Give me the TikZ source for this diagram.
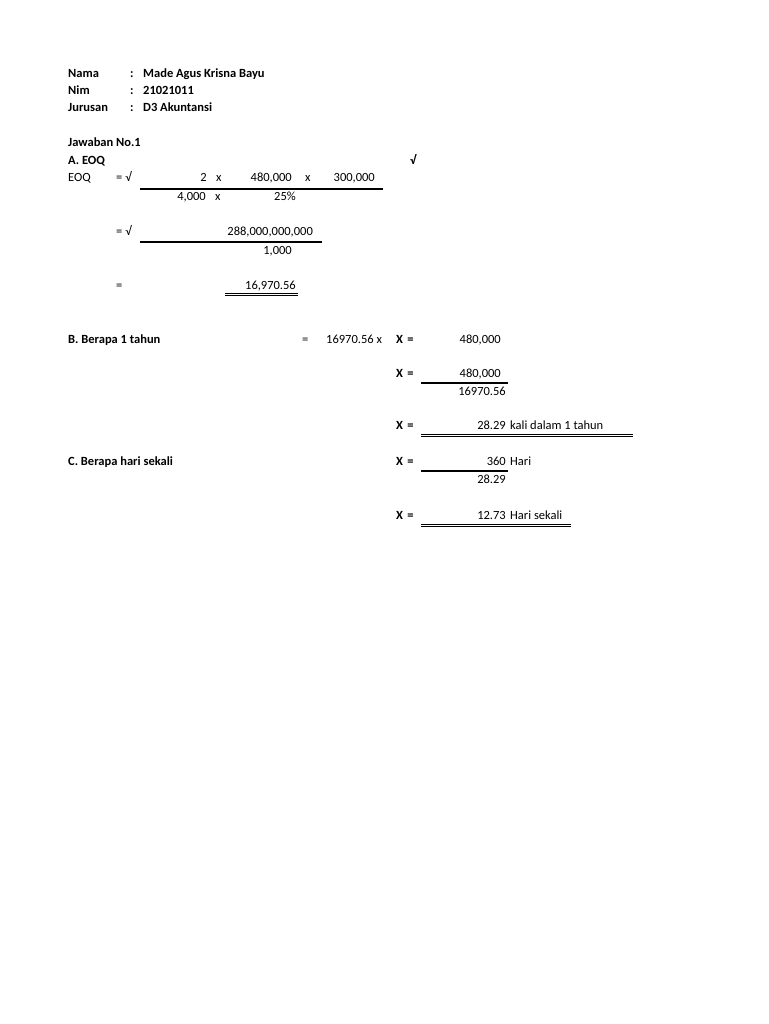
\documentclass[tikz,border=0pt]{standalone}
\usepackage{fontspec}
\setmainfont{Carlito}
\begin{document}
\begin{tikzpicture}[x=1pt,y=-1pt,
  every node/.style={inner sep=0pt,font=\fontsize{12.5}{14}\selectfont},
  lt/.style={anchor=base west},
  rt/.style={anchor=base east},
  bl/.style={anchor=base west,font=\fontsize{12.5}{14}\selectfont\bfseries},
  frac/.style={line width=1.4pt},
  dbl/.style={double,double distance=1.6pt,line width=0.7pt}]
\useasboundingbox (0,0) rectangle (768,1024);
% identitas
\node[bl] (nama) at (68,78) {Nama};
\node[bl] (nim) at (68,95) {Nim};
\node[bl] (jur) at (68,112) {Jurusan};
\foreach \y/\v in {78/Made Agus Krisna Bayu,95/21021011,112/D3 Akuntansi}{
  \node[bl] at (130,\y) {:};
  \node[bl] at (143,\y) {\v};
}
\node[bl] (jaw) at (68,147) {Jawaban No.1};
\node[bl] (a) at (68,165) {A. EOQ};
\node[bl] (akar) at (410,165) {√};
% baris EOQ
\node[lt] (eoq) at (68,182) {EOQ};
\node[lt] (eq1) at (116,182) {= √};
\node[rt] (dua) at (207,182) {2};
\node[lt] (x1) at (216,182) {x};
\node[rt] (d) at (292,182) {480,000};
\node[lt] (x2) at (305,182) {x};
\node[rt] (s) at (375,182) {300,000};
\coordinate (f1a) at (140,189); \coordinate (f1b) at (383,189);
\draw[frac] (f1a) -- (f1b);
\node[rt] (h) at (206,201) {4,000};
\node[lt] (x3) at (215,201) {x};
\node[rt] (pct) at (296,201) {25\%};
\node[lt] (eq2) at (116,236) {= √};
\node[rt] (num2) at (313,236) {288,000,000,000};
\coordinate (f2a) at (140,242); \coordinate (f2b) at (322,242);
\draw[frac] (f2a) -- (f2b);
\node[rt] (den2) at (292,254) {1,000};
\node[lt] (eq3) at (116,289) {=};
\node[rt] (hasil) at (296,289) {16,970.56};
\coordinate (u1a) at (225,294.5); \coordinate (u1b) at (298,294.5);
\draw[dbl] (u1a) -- (u1b);
% bagian B
\node[bl] (b) at (68,343) {B. Berapa 1 tahun};
\node[lt] (eq4) at (302,343) {=};
\node[lt] (q) at (326,343) {16970.56 x};
\foreach \y in {343,377,429,465,519}{ \node[bl] at (396,\y) {X\,\,=}; }
\node[rt] (d2) at (501,343) {480,000};
\node[rt] (d3) at (501,377) {480,000};
\coordinate (f3a) at (421,383); \coordinate (f3b) at (508,383);
\draw[frac] (f3a) -- (f3b);
\node[rt] (q2) at (506,395) {16970.56};
\node[rt] (frek) at (506,429) {28.29};
\node[lt] (kali) at (510,429) {kali dalam 1 tahun};
\coordinate (u2a) at (421,435.5); \coordinate (u2b) at (633,435.5);
\draw[dbl] (u2a) -- (u2b);
% bagian C
\node[bl] (c) at (68,465) {C. Berapa hari sekali};
\node[rt] (hari) at (506,465) {360};
\node[lt] (hr) at (510,465) {Hari};
\coordinate (f4a) at (421,471); \coordinate (f4b) at (508,471);
\draw[frac] (f4a) -- (f4b);
\node[rt] (frek2) at (506,483) {28.29};
\node[rt] (jwb) at (506,519) {12.73};
\node[lt] (hs) at (510,519) {Hari sekali};
\coordinate (u3a) at (421,525.5); \coordinate (u3b) at (571,525.5);
\draw[dbl] (u3a) -- (u3b);
\end{tikzpicture}
\end{document}
